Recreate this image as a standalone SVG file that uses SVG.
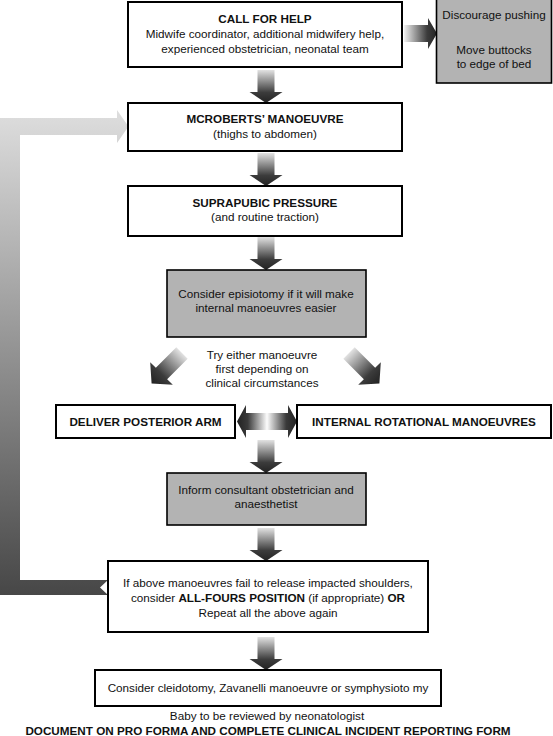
<svg xmlns="http://www.w3.org/2000/svg" width="553" height="736" viewBox="0 0 553 736">
<style>
text{font-family:"Liberation Sans",Arial,sans-serif;font-size:11.7px;fill:#111;text-anchor:middle}
.b{font-weight:bold}
.box{fill:#fff;stroke:#000;stroke-width:2}
.gbox{fill:#b3b3b3;stroke:#000;stroke-width:1.6}
</style>
<defs>
<linearGradient id="gDown" x1="0" y1="0" x2="0" y2="1">
<stop offset="0" stop-color="#e2e2e2"/><stop offset="0.68" stop-color="#3c3c3c"/><stop offset="1" stop-color="#222"/>
</linearGradient>
<linearGradient id="gRight" x1="0" y1="0" x2="1" y2="0">
<stop offset="0" stop-color="#f2f2f2"/><stop offset="0.7" stop-color="#3c3c3c"/><stop offset="1" stop-color="#222"/>
</linearGradient>
<linearGradient id="gBoth" x1="0" y1="0" x2="1" y2="0">
<stop offset="0" stop-color="#222"/><stop offset="0.18" stop-color="#3a3a3a"/><stop offset="0.5" stop-color="#fcfcfc"/><stop offset="0.82" stop-color="#3a3a3a"/><stop offset="1" stop-color="#222"/>
</linearGradient>
<linearGradient id="gLoop" x1="0" y1="0" x2="0" y2="1">
<stop offset="0" stop-color="#dedede"/><stop offset="1" stop-color="#474747"/>
</linearGradient>
<path id="dnArrow" d="M-8.5,0 H8.5 V22 H16.5 L0,33 L-16.5,22 H-8.5 Z" fill="url(#gDown)"/>
<path id="diagArrow" d="M-8,0 H8 V29 H16 L0,43 L-16,29 H-8 Z" fill="url(#gDown)"/>
</defs>

<g id="connectors">
<use href="#dnArrow" transform="translate(266,70)"/>
<use href="#dnArrow" transform="translate(266,153)"/>
<use href="#dnArrow" transform="translate(266,237)"/>
<use href="#dnArrow" transform="translate(266,440)"/>
<use href="#dnArrow" transform="translate(266,528)"/>
<use href="#dnArrow" transform="translate(266,637)"/>
<path d="M404,25 H428 V18 L437,33.5 L428,49 V42 H404 Z" fill="url(#gRight)"/>
<use href="#diagArrow" transform="translate(182,353) rotate(45)"/>
<use href="#diagArrow" transform="translate(349,353) rotate(-45)"/>
<path d="M237,421.5 L246,405 V413 H288 V405 L297,421.5 L288,438 V430 H246 V438 Z" fill="url(#gBoth)"/>
<path d="M0,118 H117 V110 L128.5,126.5 L117,143 V135 H20 V580 H108 L100,587.5 L108,595 H0 Z" fill="url(#gLoop)"/>
</g>

<g id="call-for-help">
<rect class="box" x="128" y="2" width="274" height="65"/>
<text class="b" x="265" y="23">CALL FOR HELP</text>
<text x="265" y="38">Midwife coordinator, additional midwifery help,</text>
<text x="265" y="53">experienced obstetrician, neonatal team</text>
</g>

<g id="discourage">
<rect class="gbox" x="436.5" y="-1" width="115" height="84"/>
<text x="494" y="19">Discourage pushing</text>
<text x="494" y="54">Move buttocks</text>
<text x="494" y="68">to edge of bed</text>
</g>

<g id="mcroberts">
<rect class="box" x="128" y="103" width="274" height="48"/>
<text class="b" x="265" y="123">MCROBERTS’ MANOEUVRE</text>
<text x="265" y="138">(thighs to abdomen)</text>
</g>

<g id="suprapubic">
<rect class="box" x="128" y="186" width="274" height="50"/>
<text class="b" x="265" y="207">SUPRAPUBIC PRESSURE</text>
<text x="265" y="221">(and routine traction)</text>
</g>

<g id="episiotomy">
<rect class="gbox" x="167" y="270" width="199" height="67"/>
<text x="266" y="298">Consider episiotomy if it will make</text>
<text x="266" y="312">internal manoeuvres easier</text>
</g>

<g id="try-either">
<text x="262" y="359">Try either manoeuvre</text>
<text x="262" y="373">first depending on</text>
<text x="262" y="387">clinical circumstances</text>
</g>

<g id="posterior-arm">
<rect class="box" x="56" y="405" width="179" height="33"/>
<text class="b" x="145.5" y="425.5">DELIVER POSTERIOR ARM</text>
</g>

<g id="internal-rotational">
<rect class="box" x="297" y="405" width="254" height="33"/>
<text class="b" x="424" y="425.5">INTERNAL ROTATIONAL MANOEUVRES</text>
</g>

<g id="inform">
<rect class="gbox" x="167" y="473" width="199" height="52"/>
<text x="266" y="494">Inform consultant obstetrician and</text>
<text x="266" y="508">anaesthetist</text>
</g>

<g id="all-fours">
<rect class="box" x="108" y="561" width="320" height="71"/>
<text x="268" y="587">If above manoeuvres fail to release impacted shoulders,</text>
<text x="268" y="602">consider <tspan class="b">ALL-FOURS POSITION</tspan> (if appropriate) <tspan class="b">OR</tspan></text>
<text x="268" y="617">Repeat all the above again</text>
</g>

<g id="cleidotomy">
<rect class="box" x="95" y="670" width="346" height="36"/>
<text x="268" y="692">Consider cleidotomy, Zavanelli manoeuvre or symphysioto my</text>
</g>

<g id="footer">
<text x="267" y="720">Baby to be reviewed by neonatologist</text>
<text class="b" x="268" y="735">DOCUMENT ON PRO FORMA AND COMPLETE CLINICAL INCIDENT REPORTING FORM</text>
</g>
</svg>
